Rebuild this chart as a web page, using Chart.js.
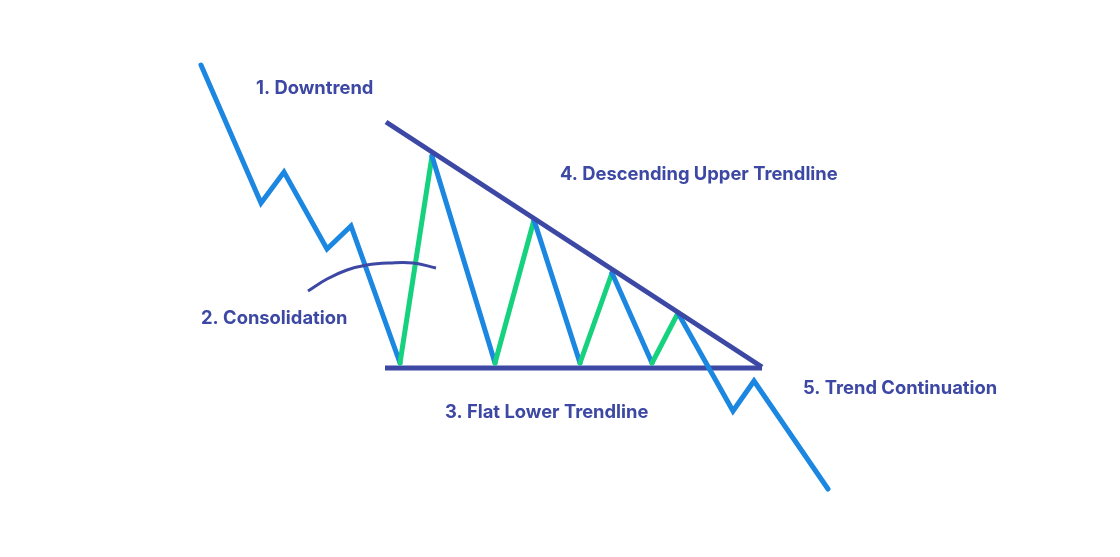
<!DOCTYPE html>
<html>
<head>
<meta charset="utf-8">
<script src="https://cdn.jsdelivr.net/npm/chart.js@4/dist/chart.umd.min.js"></script>
<style>
html,body{margin:0;padding:0;background:#fff;}
#wrap{width:1120px;height:557px;position:relative;}
</style>
</head>
<body>
<div id="wrap"><canvas id="c"></canvas></div>
<script>
// Price path (x = time position, y = price level; higher = up)
const priceX = [201, 261, 284, 327, 351, 400, 432, 495, 534, 580, 612, 652, 678, 733, 754, 828];
const priceY = [492, 354, 385, 308, 331, 194, 401, 194, 337, 194, 284, 194, 244, 146, 176, 68];
// indices of segment starts that are rising legs inside the triangle
const risingLegs = [5, 7, 9, 11];

// Descending upper trendline
const upperX = [386, 762];
const upperY = [435, 190];
// Flat lower trendline (support)
const lowerX = [385, 762];
const lowerY = [189, 189];
// Consolidation arc
const arcX = [308, 327, 347, 367, 390, 413, 436];
const arcY = [266, 278, 287, 292, 294, 294, 289];

// Annotation labels
const labelText = ["1. Downtrend", "2. Consolidation", "3. Flat Lower Trendline", "4. Descending Upper Trendline", "5. Trend Continuation"];
const labelX = [256, 201, 445, 560, 803];
const labelY = [463, 233, 139, 377, 163];

const NAVY = '#3c48a3';
const BLUE = '#1b87e1';
const GREEN = '#16d27f';

function pts(xs, ys){ return xs.map((x,i)=>({x:x, y:ys[i]})); }

const labelPlugin = {
  id: 'labels',
  afterDatasetsDraw(chart){
    const ctx = chart.ctx;
    const xs = chart.scales.x, ys = chart.scales.y;
    ctx.save();
    let size = 17;
    ctx.font = `700 ${size}px Inter`;
    const w = ctx.measureText(labelText[3]).width;
    size = size * 278 / w;
    ctx.font = `700 ${size.toFixed(2)}px Inter`;
    ctx.fillStyle = NAVY;
    ctx.textBaseline = 'alphabetic';
    ctx.textAlign = 'left';
    labelText.forEach((t,i)=>{
      ctx.fillText(t, xs.getPixelForValue(labelX[i]), ys.getPixelForValue(labelY[i]));
    });
    ctx.restore();
  }
};

new Chart(document.getElementById('c'), {
  type: 'scatter',
  data: {
    datasets: [
      {
        data: pts(lowerX, lowerY), showLine: true, borderColor: NAVY, borderWidth: 5,
        pointRadius: 0, borderCapStyle: 'butt', order: 3
      },
      {
        data: pts(priceX, priceY), showLine: true, borderColor: BLUE, borderWidth: 5,
        pointRadius: 0, borderCapStyle: 'round', borderJoinStyle: 'miter', order: 2,
        segment: {
          borderColor: c => risingLegs.includes(c.p0DataIndex) ? GREEN : BLUE
        }
      },
      {
        data: pts(upperX, upperY), showLine: true, borderColor: NAVY, borderWidth: 5,
        pointRadius: 0, borderCapStyle: 'butt', order: 1
      },
      {
        data: pts(arcX, arcY), showLine: true, borderColor: NAVY, borderWidth: 3,
        pointRadius: 0, tension: 0.4, order: 0
      }
    ]
  },
  options: {
    responsive: true,
    maintainAspectRatio: false,
    animation: false,
    events: [],
    layout: { padding: 0 },
    plugins: { legend: { display: false }, tooltip: { enabled: false } },
    scales: {
      x: { type: 'linear', min: 0, max: 1120, display: false },
      y: { type: 'linear', min: 0, max: 557, display: false }
    },
    elements: { line: { capBezierPoints: false } },
    clip: false
  },
  plugins: [labelPlugin]
});
</script>
</body>
</html>
